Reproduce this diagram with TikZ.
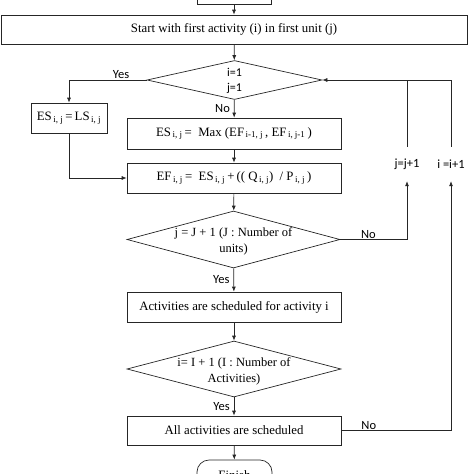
\documentclass[tikz,border=0pt]{standalone}
\usepackage{fontspec}
\setmainfont{Liberation Serif}
\newfontfamily\lblfont{Carlito}
\usetikzlibrary{shapes.geometric, arrows.meta, positioning}

\tikzset{
  line/.style={draw=black!85, line width=0.7pt},
  arrow/.style={line, -{Latex[length=5pt, width=4pt]}},
  procbox/.style={line, rectangle, inner sep=0pt, font=\fontsize{12.8}{14}\selectfont},
  decision/.style={line, diamond, inner sep=0pt},
  decitext/.style={align=center, font=\fontsize{12.5}{15.5}\selectfont},
  termbox/.style={line, rectangle, rounded corners=12pt, inner sep=0pt, font=\fontsize{12.8}{14}\selectfont},
  lbl/.style={font=\lblfont\fontsize{12.5}{14}\selectfont, inner sep=1pt},
  vlbl/.style={lbl, midway, left, inner sep=4pt},
}

\begin{document}
\begin{tikzpicture}[x=1pt, y=-1pt]
  \useasboundingbox (0,0) rectangle (474,474);

  % boxes of the main column
  \node[procbox, minimum width=74pt, minimum height=30pt] at (234,-11) (top) {};
  \node[procbox, minimum width=466pt, minimum height=29pt] at (234,29.5) (init) {Start with first activity (i) in first unit (j)};
  \node[decision, minimum width=175pt, minimum height=39pt] at (234.5,80) (first) {};
  \node[lbl, align=center, font=\lblfont\fontsize{12}{14.5}\selectfont] at ([yshift=-1pt]first) {i=1\\j=1};
  \node[procbox, minimum width=76pt, minimum height=30pt] at (69,118) (esls) {ES\textsubscript{\,i, j}\,=\,LS\textsubscript{\,i, j}};
  \node[procbox, minimum width=214pt, minimum height=31pt] at (234,133.5) (esmax) {ES\textsubscript{\,i, j}\,=\ \ Max (EF\textsubscript{\,i-1, j}\,, EF\textsubscript{\,i, j-1}\,)};
  \node[procbox, minimum width=214pt, minimum height=30pt] at (234,178) (ef) {EF\textsubscript{\,i, j}\,=\ \ ES\textsubscript{\,i, j}\,+\,(( Q\textsubscript{\,i, j})\ \ / P\textsubscript{\,i, j}\,)};
  \node[decision, minimum width=213pt, minimum height=57pt] at (233.5,239.5) (unit) {};
  \node[decitext] at ([yshift=-2pt]unit) {j = J + 1 (J : Number of\\units)};
  \node[procbox, minimum width=214pt, minimum height=30pt] at (234,307) (sched) {Activities are scheduled for activity i};
  \node[decision, minimum width=214pt, minimum height=56pt] at (234,369) (act) {};
  \node[decitext] at ([yshift=-2.5pt]act) {i= I + 1 (I : Number of\\Activities)};
  \node[procbox, minimum width=214pt, minimum height=29pt] at (234,430.5) (done) {All activities are scheduled};
  \node[termbox, minimum width=75pt, minimum height=30pt] at (234.5,475) (finish) {Finish};

  % counters on the right
  \node[lbl, minimum height=34pt] at (407,164) (jnext) {j=j+1};
  \node[lbl, minimum height=34pt] at (451,164) (inext) {i =i+1};

  % connectors
  \draw[arrow] (top) -- (init);
  \draw[arrow] (init) -- (first);
  \draw[arrow] (first.west) -| (esls.north) node[lbl, pos=0.165, above] {Yes};
  \draw[arrow] (first) -- (esmax) node[vlbl] {No};
  \draw[arrow] (esls.south) |- (ef.west);
  \draw[arrow] (esmax) -- (ef);
  \draw[arrow] (ef) -- (unit);
  \draw[arrow] (unit.east) -| (jnext.south) node[lbl, pos=0.21, above] {No};
  \draw[line] (jnext.north) -- (jnext.north |- first.east);
  \draw[arrow] (inext.north) |- (first.east);
  \draw[arrow] (unit) -- (sched) node[vlbl] {Yes};
  \draw[arrow] (sched) -- (act);
  \draw[arrow] (act) -- (done) node[vlbl] {Yes};
  \draw[arrow] (done.east) -| (inext.south) node[lbl, pos=0.125, above] {No};
  \draw[arrow] (done) -- (finish);
\end{tikzpicture}
\end{document}
